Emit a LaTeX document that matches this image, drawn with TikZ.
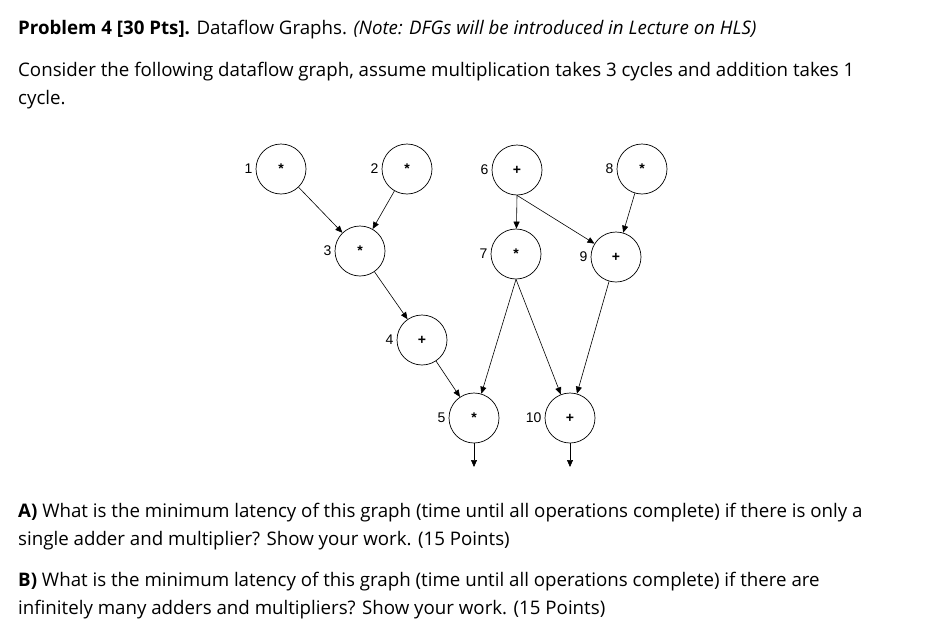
\documentclass[tikz,border=0pt]{standalone}
\usepackage{fontspec}
\setmainfont{Open Sans}
\newfontfamily\lblfont{Liberation Sans}
\usetikzlibrary{arrows.meta}
\begin{document}
\begin{tikzpicture}[x=1pt,y=-1pt,
  op/.style={circle,draw,line width=0.7pt,minimum size=50pt,inner sep=0pt,font=\lblfont\fontsize{14}{15}\selectfont\bfseries},
  lbl/.style={font=\lblfont\fontsize{14}{15}\selectfont},
  txt/.style={anchor=base west,inner sep=0pt,font=\fontsize{18.7}{20}\selectfont},
  ar/.style={-{Triangle[length=7pt,width=6pt]},line width=0.6pt}]
\useasboundingbox (0,0) rectangle (931,637);
\node[txt] (t1) at (18,34) {\textbf{Problem 4 [30 Pts].} Dataflow Graphs. \textit{(Note: DFGs will be introduced in Lecture on HLS)}};
\node[txt] (t2) at (18,76) {Consider the following dataflow graph, assume multiplication takes 3 cycles and addition takes 1};
\node[txt] (t3) at (18,104) {cycle.};
\node[txt] (t4) at (18,517) {\textbf{A)} What is the minimum latency of this graph (time until all operations complete) if there is only a};
\node[txt] (t5) at (18,545) {single adder and multiplier? Show your work. (15 Points)};
\node[txt] (t6) at (18,586) {\textbf{B)} What is the minimum latency of this graph (time until all operations complete) if there are};
\node[txt] (t7) at (18,614) {infinitely many adders and multipliers? Show your work. (15 Points)};

\node[op] (n1) at (281,169) {*};
\node[op] (n2) at (407,169) {*};
\node[op] (n6) at (517,170) {+};
\node[op] (n8) at (642,169) {*};
\node[op] (n3) at (360,251) {*};
\node[op] (n7) at (516,254) {*};
\node[op] (n9) at (616,257) {+};
\node[op] (n4) at (422,340) {+};
\node[op] (n5) at (474,418) {*};
\node[op] (n10) at (570,418) {+};
\foreach \n/\t in {n1/1,n2/2,n6/6,n8/8,n3/3,n7/7,n9/9,n4/4,n5/5,n10/10}
  \node[lbl,anchor=east,inner sep=3pt] (l\n) at (\n.west) {\t};
\coordinate (o5) at (474,467);
\coordinate (o10) at (570,467);
\draw[ar] (n1) -- (n3);
\draw[ar] (n2) -- (n3);
\draw[ar] (n3) -- (n4);
\draw[ar] (n4) -- (n5);
\draw[ar] (n7.south) -- (n5);
\draw[ar] (n7.south) -- (n10);
\draw[ar] (n9) -- (n10);
\draw[ar] (n6.south) -- (n7);
\draw[ar] (n6.south) -- (n9);
\draw[ar] (n8) -- (n9);
\draw[ar] (n5) -- (o5);
\draw[ar] (n10) -- (o10);
\end{tikzpicture}
\end{document}
